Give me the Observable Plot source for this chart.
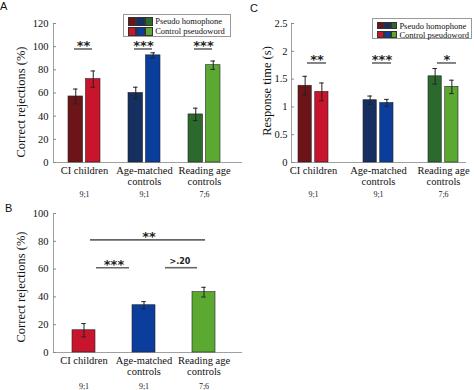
<!DOCTYPE html>
<html><head><meta charset="utf-8">
<script src="https://cdn.jsdelivr.net/npm/d3@7"></script>
<script src="https://cdn.jsdelivr.net/npm/@observablehq/plot@0.6"></script>
<style>
body{margin:0;background:#fff;}
#fig{position:relative;width:474px;height:390px;overflow:hidden;font-family:"Liberation Serif","Times New Roman",serif;background:#fff;}
.panel{position:absolute;}
.panel svg{overflow:visible;}
.letter{position:absolute;font-family:"Liberation Sans",Arial,sans-serif;font-size:11px;color:#111;}
.legend{position:absolute;border:1px solid #999;background:#fff;font-family:"Liberation Serif","Times New Roman",serif;font-size:8.5px;box-sizing:border-box;color:#111;}
.legend .row{position:absolute;display:flex;align-items:center;white-space:nowrap;}
.legend .sw{box-sizing:border-box;border:0.5px solid #333;}
.legend .lab{margin-left:2px;}
</style></head>
<body><div id="fig"></div>
<script>
// ---- data ----
const groups = ["CI children", "Age-matched controls", "Reading age controls"];
const groupLabels = ["CI children", "Age-matched\ncontrols", "Reading age\ncontrols"];
const ages = ["9;1", "9;1", "7;6"];
const conditions = ["Pseudo homophone", "Control pseudoword"];

// Panel A: correct rejections (%)
const accPH = [57, 60, 41.5];
const accPHerr = [6.4, 5, 5.4];
const accCP = [72, 92.5, 84];
const accCPerr = [7, 2.2, 3.6];
const sigA = ["**", "***", "***"];
const sigAy = 98;

// Panel C: response time (s)
const rtPH = [1.38, 1.12, 1.55];
const rtPHerr = [0.17, 0.075, 0.14];
const rtCP = [1.27, 1.07, 1.36];
const rtCPerr = [0.16, 0.065, 0.12];
const sigC = ["**", "***", "*"];
const sigCy = 1.79;

// Panel B: correct rejections (%)
const accB = [16, 34, 43.4];
const accBerr = [4.8, 2.6, 3.5];
const sigB = [
  {from: "CI children", to: "Reading age controls", y: 81, label: "**"},
  {from: "CI children", to: "Age-matched controls", y: 61, label: "***"},
  {from: "Age-matched controls", to: "Reading age controls", y: 61, label: ">.20"}
];

const darkColors = ["#6d1419", "#142f60", "#2b6a2c"];
const brightColors = ["#c8142c", "#0b3e9c", "#5ca932"];

const serif = "'Liberation Serif', 'Times New Roman', serif";
const starFont = "'DejaVu Sans', sans-serif";
const fig = document.getElementById("fig");

function place(node, left, top) {
  const d = document.createElement("div");
  d.className = "panel";
  d.style.left = left + "px";
  d.style.top = top + "px";
  d.appendChild(node);
  fig.appendChild(d);
}

const labelOf = d => groupLabels[groups.indexOf(d)];

function grouped({ph, phErr, cp, cpErr, sig, sigY, yDomain, yTicks, yFmt, yLabel, labelDx, labelDy, tickPadding,
                  width, marginLeft, marginRight, paddingInner, paddingOuter, align, gap, capW, sigInL, sigInR}) {
  const rows = groups.map((g, i) => ({group: g, i, ph: ph[i], phErr: phErr[i], cp: cp[i], cpErr: cpErr[i]}));
  const W = width - marginLeft - marginRight;
  const step = W / (groups.length - paddingInner + 2 * paddingOuter);
  const bw = step * (1 - paddingInner);
  const ins = (bw + gap) / 2;
  const q = (bw + gap) / 4;
  const capIn = (bw - capW) / 2;
  return Plot.plot({
    width, height: 200, marginLeft, marginRight, marginTop: 23, marginBottom: 38,
    style: {fontFamily: serif, fontSize: "10.5px", background: "transparent", overflow: "visible"},
    x: {domain: groups, paddingInner, paddingOuter, align, axis: null},
    y: {domain: yDomain, axis: null},
    color: {type: "identity"},
    marks: [
      Plot.frame({anchor: "left", stroke: "#a0a0a0"}),
      Plot.ruleY([0], {stroke: "#a0a0a0"}),
      Plot.axisY({ticks: yTicks, tickFormat: yFmt, tickSize: -3, tickPadding, stroke: "#888", fill: "#111", fontSize: 10.5, label: null}),
      Plot.axisX({tickSize: 0, tickPadding: 4, tickFormat: labelOf, fontSize: 10.5, lineHeight: 1.05, fill: "#111", label: null}),
      Plot.barY(rows, {x: "group", y: "ph", fill: d => darkColors[d.i], insetRight: ins, stroke: "#222", strokeWidth: 0.6}),
      Plot.barY(rows, {x: "group", y: "cp", fill: d => brightColors[d.i], insetLeft: ins, stroke: "#222", strokeWidth: 0.6}),
      Plot.ruleX(rows, {x: "group", y1: d => d.ph - d.phErr, y2: d => d.ph + d.phErr, dx: -q, stroke: "#222"}),
      Plot.ruleX(rows, {x: "group", y1: d => d.cp - d.cpErr, y2: d => d.cp + d.cpErr, dx: q, stroke: "#222"}),
      Plot.tickY(rows, {x: "group", y: d => d.ph + d.phErr, dx: -q, insetLeft: capIn, insetRight: capIn, stroke: "#222"}),
      Plot.tickY(rows, {x: "group", y: d => d.ph - d.phErr, dx: -q, insetLeft: capIn, insetRight: capIn, stroke: "#222"}),
      Plot.tickY(rows, {x: "group", y: d => d.cp + d.cpErr, dx: q, insetLeft: capIn, insetRight: capIn, stroke: "#222"}),
      Plot.tickY(rows, {x: "group", y: d => d.cp - d.cpErr, dx: q, insetLeft: capIn, insetRight: capIn, stroke: "#222"}),
      Plot.ruleY(rows, {x1: "group", x2: "group", y: () => sigY, insetLeft: sigInL, insetRight: sigInR, stroke: "#666", strokeWidth: 1.6}),
      Plot.text(rows, {x: "group", y: () => sigY, text: d => sig[d.i], dy: -3, dx: (sigInL - sigInR) / 2, fontFamily: starFont, fontWeight: "bold", fontSize: 13, fill: "#222"}),
      Plot.text(rows, {x: "group", text: d => ages[d.i], frameAnchor: "bottom", dy: 34, fontSize: 8, fill: "#222"}),
      Plot.text([yLabel], {text: d => d, frameAnchor: "left", textAnchor: "middle", rotate: -90, dx: labelDx, dy: labelDy, fontSize: 12.5, fill: "#111"})
    ]
  });
}

// Panel A
place(grouped({
  ph: accPH, phErr: accPHerr, cp: accCP, cpErr: accCPerr, sig: sigA, sigY: sigAy,
  yDomain: [0, 120], yTicks: [0, 20, 40, 60, 80, 100, 120], yFmt: d => String(d),
  yLabel: "Correct rejections (%)", labelDx: -33, labelDy: 9, tickPadding: 8,
  width: 242, marginLeft: 53, marginRight: 0, paddingInner: 0.463, paddingOuter: 0.293, align: 0.42,
  gap: 2.5, capW: 5, sigInL: 6, sigInR: 8
}), 0, 0);

// Panel C
place(grouped({
  ph: rtPH, phErr: rtPHerr, cp: rtCP, cpErr: rtCPerr, sig: sigC, sigY: sigCy,
  yDomain: [0, 2.5], yTicks: [0, 0.5, 1, 1.5, 2, 2.5], yFmt: d => String(d),
  yLabel: "Response time (s)", labelDx: -25, labelDy: -2, tickPadding: 7,
  width: 234, marginLeft: 51, marginRight: 8, paddingInner: 0.531, paddingOuter: 0.1115, align: 0.48,
  gap: 3, capW: 5, sigInL: 9, sigInR: 2
}), 240, 0);

// Panel B
{
  const rows = groups.map((g, i) => ({group: g, i, v: accB[i], e: accBerr[i]}));
  const width = 242, marginLeft = 53, marginRight = 0, paddingInner = 0.61, paddingOuter = 0.373;
  const W = width - marginLeft - marginRight;
  const step = W / (groups.length - paddingInner + 2 * paddingOuter);
  const bw = step * (1 - paddingInner);
  const capIn = (bw - 5) / 2;
  const starStyle = {fontFamily: starFont, fontWeight: "bold", fill: "#222"};
  const ruleStyle = {stroke: "#666", strokeWidth: 1.6};
  place(Plot.plot({
    width, height: 190, marginLeft, marginRight, marginTop: 13, marginBottom: 38,
    style: {fontFamily: serif, fontSize: "10.5px", background: "transparent", overflow: "visible"},
    x: {domain: groups, paddingInner, paddingOuter, align: 0.42, axis: null},
    y: {domain: [0, 100], axis: null},
    color: {type: "identity"},
    marks: [
      Plot.frame({anchor: "left", stroke: "#a0a0a0"}),
      Plot.ruleY([0], {stroke: "#a0a0a0"}),
      Plot.axisY({ticks: [0, 20, 40, 60, 80, 100], tickSize: -3, tickPadding: 8, stroke: "#888", fill: "#111", fontSize: 10.5, label: null}),
      Plot.axisX({tickSize: 0, tickPadding: 4, tickFormat: labelOf, fontSize: 10.5, lineHeight: 1.05, fill: "#111", label: null}),
      Plot.barY(rows, {x: "group", y: "v", fill: d => brightColors[d.i], stroke: "#222", strokeWidth: 0.6}),
      Plot.ruleX(rows, {x: "group", y1: d => d.v - d.e, y2: d => d.v + d.e, stroke: "#222"}),
      Plot.tickY(rows, {x: "group", y: d => d.v + d.e, insetLeft: capIn, insetRight: capIn, stroke: "#222"}),
      Plot.tickY(rows, {x: "group", y: d => d.v - d.e, insetLeft: capIn, insetRight: capIn, stroke: "#222"}),
      Plot.ruleY([sigB[0]], {x1: "from", x2: "to", y: "y", insetLeft: 18, insetRight: 10, ...ruleStyle}),
      Plot.ruleY([sigB[1]], {x1: "from", x2: "to", y: "y", insetLeft: 24, insetRight: 26, ...ruleStyle}),
      Plot.ruleY([sigB[2]], {x1: "from", x2: "to", y: "y", insetLeft: 33, insetRight: 18, ...ruleStyle}),
      Plot.text([sigB[0]], {x: () => groups[1], y: "y", text: "label", dx: 5, dy: -3, fontSize: 13, ...starStyle}),
      Plot.text([sigB[1]], {x: () => groups[0], y: "y", text: "label", dx: 30, dy: -3, fontSize: 13, ...starStyle}),
      Plot.text([sigB[2]], {x: () => groups[1], y: "y", text: "label", dx: 36, dy: -6, fontSize: 8, ...starStyle}),
      Plot.text(rows, {x: "group", text: d => ages[d.i], frameAnchor: "bottom", dy: 36, fontSize: 8, fill: "#222"}),
      Plot.text(["Correct rejections (%)"], {text: d => d, frameAnchor: "left", textAnchor: "middle", rotate: -90, dx: -33, dy: 4, fontSize: 12.5, fill: "#111"})
    ]
  }), 0, 200);
}

// Legends (HTML)
function legend(left, top, w, h, swW, swH, padL, row1, row2) {
  const box = document.createElement("div");
  box.className = "legend";
  Object.assign(box.style, {left: left + "px", top: top + "px", width: w + "px", height: h + "px"});
  [[darkColors, conditions[0], row1], [brightColors, conditions[1], row2]].forEach(([cols, text, y]) => {
    const r = document.createElement("div");
    r.className = "row";
    r.style.left = padL + "px";
    r.style.top = y + "px";
    cols.forEach(c => {
      const s = document.createElement("div");
      s.className = "sw";
      Object.assign(s.style, {width: swW + "px", height: swH + "px", background: c});
      r.appendChild(s);
    });
    const t = document.createElement("span");
    t.className = "lab";
    t.textContent = text;
    r.appendChild(t);
    box.appendChild(r);
  });
  fig.appendChild(box);
}
legend(123, 14, 108, 23, 8.4, 9, 4, 1, 11);
legend(372, 18, 100, 21, 6.8, 7, 4, 1.5, 10.5);

// panel letters
[["A", 0, 0], ["C", 250, 2], ["B", 5, 202]].forEach(([t, x, y]) => {
  const s = document.createElement("div");
  s.className = "letter";
  s.textContent = t;
  s.style.left = x + "px";
  s.style.top = y + "px";
  fig.appendChild(s);
});
</script>
</body></html>
